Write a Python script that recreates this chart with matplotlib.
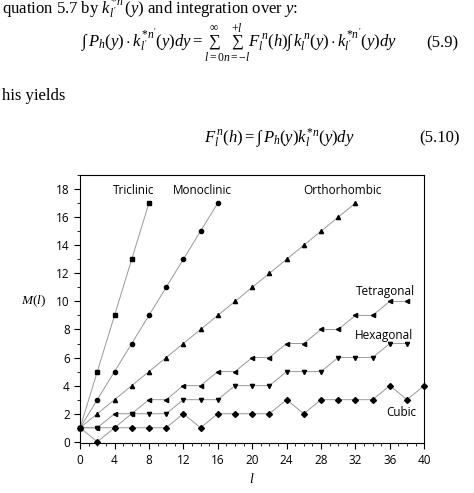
import matplotlib
matplotlib.use('Agg')
import matplotlib.pyplot as plt
from matplotlib.ticker import MultipleLocator

plt.rcParams['mathtext.fontset'] = 'custom'
plt.rcParams['mathtext.rm'] = 'Liberation Serif'
plt.rcParams['mathtext.it'] = 'Liberation Serif:italic'

# données
l_tri = [0, 2, 4, 6, 8]
m_tri = [1, 5, 9, 13, 17]
l_mono = list(range(0, 17, 2))
m_mono = [1, 3, 5, 7, 9, 11, 13, 15, 17]
l_ortho = list(range(0, 33, 2))
m_ortho = [1, 2, 3, 4, 5, 6, 7, 8, 9, 10, 11, 12, 13, 14, 15, 16, 17]
l_tetra = list(range(0, 39, 2))
m_tetra = [1, 1, 2, 2, 3, 3, 4, 4, 5, 5, 6, 6, 7, 7, 8, 8, 9, 9, 10, 10]
l_hexa = list(range(0, 39, 2))
m_hexa = [1, 1, 1, 2, 2, 2, 3, 3, 3, 4, 4, 4, 5, 5, 5, 6, 6, 6, 7, 7]
l_cub = list(range(0, 41, 2))
m_cub = [1, 0, 1, 1, 1, 1, 2, 1, 2, 2, 2, 2, 3, 2, 3, 3, 3, 3, 4, 3, 4]

series = [
    (l_tri, m_tri, 's'),
    (l_mono, m_mono, 'o'),
    (l_ortho, m_ortho, '^'),
    (l_tetra, m_tetra, '<'),
    (l_hexa, m_hexa, 'v'),
    (l_cub, m_cub, 'D'),
]

fig = plt.figure(figsize=(4.74, 4.93), dpi=100)
ax = fig.add_axes([0.169, 0.101, 0.726, 0.544])

for x, y, mk in series:
    ax.plot(x, y, color='#999999', lw=0.7, zorder=1)
    ax.plot(x, y, ls='none', marker=mk, ms=3, color='black', clip_on=False, zorder=2)

labels = [(6.2, 17.9, 'Triclinic'), (14.2, 17.9, 'Monoclinic'), (30.5, 17.9, 'Orthorhombic'),
          (35.5, 10.7, 'Tetragonal'), (35.3, 7.6, 'Hexagonal'), (37.3, 2.1, 'Cubic')]
for x, y, t in labels:
    ax.text(x, y, t, ha='center', va='center', fontsize=8.5, family='Open Sans')

ax.set_xlim(0, 40)
ax.set_ylim(-0.1, 19)
ax.xaxis.set_major_locator(MultipleLocator(4))
ax.xaxis.set_minor_locator(MultipleLocator(1))
ax.yaxis.set_major_locator(MultipleLocator(2))
ax.yaxis.set_minor_locator(MultipleLocator(1))
ax.tick_params(which='major', length=4, width=0.8, labelsize=8.5)
ax.tick_params(which='minor', length=2, width=0.6)
for lab in ax.get_xticklabels() + ax.get_yticklabels():
    lab.set_family('Open Sans')
ax.set_xlabel('$l$', fontsize=10)
ax.set_ylabel('$M(l)$', fontsize=9.5, rotation=0, labelpad=16)

# texte au-dessus du graphique
fs = 12
fig.text(0.005, 0.985, r'quation 5.7 by $k_{l^\prime}^{*n^\prime}(y)$ and integration over $y$:',
         fontsize=fs, va='center', family='Liberation Serif')
fig.text(0.17, 0.912, r'$\int\, P_h(y)\cdot k_{l^\prime}^{*n^\prime}(y)dy = \sum_{l=0}^{\infty}\sum_{n=-l}^{+l}F_l^{\,n}(h)\int\, k_l^{\,n}(y)\cdot k_{l^\prime}^{*n^\prime}(y)dy$',
         fontsize=fs, va='center')
fig.text(0.9, 0.912, '(5.9)', fontsize=fs, va='center', family='Liberation Serif')
fig.text(0.005, 0.805, 'his yields', fontsize=fs, va='center', family='Liberation Serif')
fig.text(0.43, 0.72, r'$F_l^{\,n}(h) = \int\, P_h(y)k_l^{*n}(y)dy$', fontsize=fs, va='center')
fig.text(0.885, 0.72, '(5.10)', fontsize=fs, va='center', family='Liberation Serif')

fig.savefig('out.png', dpi=100)
